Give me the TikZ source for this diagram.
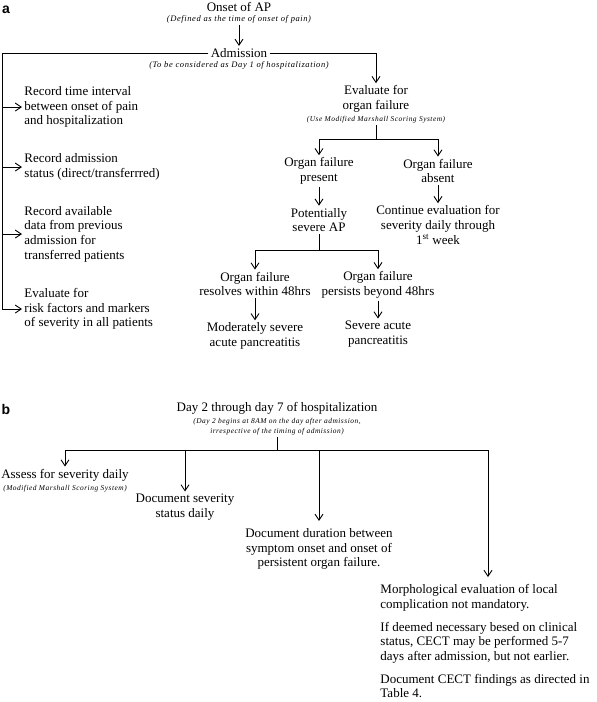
\documentclass[tikz,border=0pt]{standalone}
\usepackage{fontspec}
\setmainfont{Liberation Serif}
\setsansfont{Liberation Sans}
\newfontfamily\notefont[LetterSpace=7]{Liberation Serif}
\usetikzlibrary{positioning, arrows.meta}

\begin{document}
\begin{tikzpicture}[x=1pt, y=-1pt, line width=0.9pt,
	>={Straight Barb[length=6pt, width=8pt]},
	every node/.style={inner sep=2pt, font=\fontsize{13}{14.7}\selectfont},
	box/.style={align=center},
	lbox/.style={align=left, anchor=west},
	note/.style={inner sep=1pt, align=center, font=\notefont\itshape\fontsize{8.5}{10}\selectfont},
	snote/.style={note, inner ysep=1.5pt, font=\notefont\itshape\fontsize{7.4}{9.8}\selectfont},
	panel/.style={inner sep=0pt, font=\sffamily\bfseries\fontsize{14}{14}\selectfont}]

\useasboundingbox (0,0) rectangle (597,702);

% panel a
\node[panel]	(la)	at (6,10)						{a};
\node[box]		(onset)	at (239,7)						{Onset of AP};
\node[note]		(onsetn)	[below		=0pt of onset]	{(Defined as the time of onset of pain)};
\node[box]		(adm)	at (239,53)						{Admission};
\node[note]		(admn)	[below		=0pt of adm]	{(To be considered as Day 1 of hospitalization)};

\node[lbox]		(rec1)	at (22,107)	{Record time interval\\between onset of pain\\and hospitalization};
\node[lbox]		(rec2)	at (22,167)	{Record admission\\status (direct/transferrred)};
\node[lbox]		(rec3)	at (22,234)	{Record available\\data from previous\\admission for\\transferred patients};
\node[lbox]		(rec4)	at (22,309)	{Evaluate for\\risk factors and markers\\of severity in all patients};

\node[box]		(evof)	at (376,99)						{Evaluate for\\organ failure};
\node[snote]	(evofn)	[below		=0pt of evof]	{(Use Modified Marshall Scoring System)};
\node[box]		(ofp)	at (319,171)	{Organ failure\\present};
\node[box]		(ofa)	at (438,171)	{Organ failure\\absent};
\node[box]		(psap)	at (319,220)	{Potentially\\severe AP};
\node[box]		(cont)	at (438,225)	{Continue evaluation for\\severity daily through\\1\textsuperscript{st} week};
\node[box]		(ofr)	at (255,284)	{Organ failure\\resolves within 48hrs};
\node[box]		(ofper)	at (378,285)	{Organ failure\\persists beyond 48hrs};
\node[box]		(msap)	at (255,336)	{Moderately severe\\acute pancreatitis};
\node[box]		(sap)	at (378,334)	{Severe acute\\pancreatitis};

\coordinate (lbot)	at (2,309);
\coordinate (ej)	at (376,139);
\coordinate (pj)	at (319,250);

\draw (adm.west) -| (lbot);
\draw[->] (adm.east) -| (evof.north);
\draw[->] (lbot |- rec1.west) -- (rec1.west);
\draw[->] (lbot |- rec2.west) -- (rec2.west);
\draw[->] (lbot |- rec3.west) -- (rec3.west);
\draw[->] (lbot |- rec4.west) -- (rec4.west);
\draw (evofn) -- (ej);
\draw[->] (ej) -| (ofp);
\draw[->] (ej) -| (ofa);
\draw (psap) -- (pj);
\draw[->] (pj) -| (ofr);
\draw[->] (pj) -| (ofper);

\path[->]
	(onsetn)	edge	(adm)
	(ofp)		edge	(psap)
	(ofa)		edge	(cont)
	(ofr)		edge	(msap)
	(ofper)		edge	(sap)
;

% panel b
\node[panel]	(lb)	at (6,409)						{b};
\node[box]		(day)	at (277,408)					{Day 2 through day 7 of hospitalization};
\node[snote]	(dayn)	[below		=0pt of day]	{(Day 2 begins at 8AM on the day after admission,\\irrespective of the timing of admission)};
\node[box]		(asd)	at (65,475)						{Assess for severity daily};
\node[snote]	(asdn)	[below		=0pt of asd]	{(Modified Marshall Scoring System)};
\node[box]		(dss)	at (185,507)	{Document severity\\status daily};
\node[box, inner ysep=7pt]	(ddb)	at (319,549)	{Document duration between\\symptom onset and onset of\\persistent organ failure.};
\node[lbox, anchor=north west, inner ysep=7pt]	(morph)	at (378,577)
	{Morphological evaluation of local\\complication not mandatory.\\[8pt]
	If deemed necessary besed on clinical\\status, CECT may be performed 5-7\\days after admission, but not earlier.\\[8pt]
	Document CECT findings as directed in\\Table 4.};

\coordinate (dj)	at (277,450);
\coordinate (b1)	at (65,450);
\coordinate (b4)	at (488,450);

\draw (dayn) -- (dj);
\draw (b1) -- (b4);
\draw[->] (b1) -- (asd);
\draw[->] (dss |- dj) -- (dss);
\draw[->] (ddb |- dj) -- (ddb);
\draw[->] (b4) -- (b4 |- morph.north);

\end{tikzpicture}
\end{document}
